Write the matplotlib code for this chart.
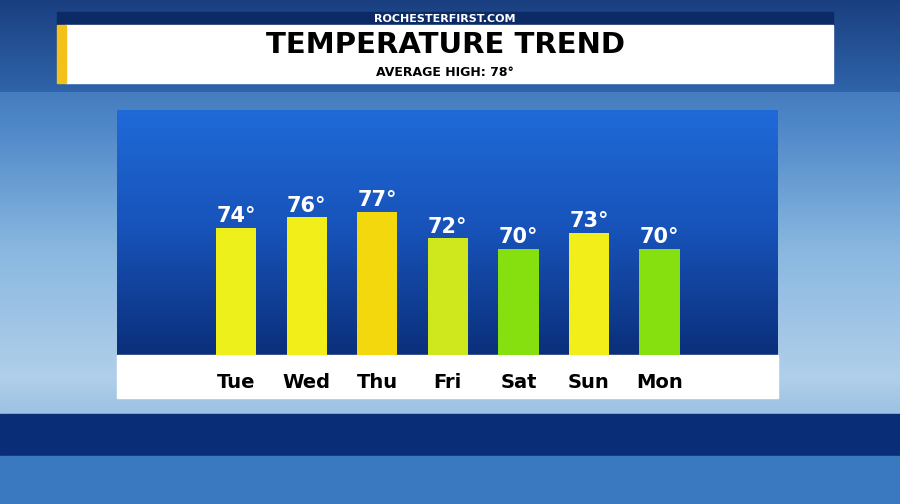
import matplotlib
matplotlib.use("Agg")
import matplotlib.pyplot as plt
import numpy as np
from matplotlib.patches import Rectangle

days = ["Tue", "Wed", "Thu", "Fri", "Sat", "Sun", "Mon"]
highs = [74, 76, 77, 72, 70, 73, 70]
bar_colors = ["#eef01c", "#f2ee1a", "#f2d80c", "#cfe81e", "#86e010", "#f2ee1a", "#86e010"]
title = "TEMPERATURE TREND"
subtitle = "AVERAGE HIGH: 78°"
site = "ROCHESTERFIRST.COM"

W, H = 900, 504
fig = plt.figure(figsize=(W / 100, H / 100), dpi=100)

# background: sky-ish gradient, in pixel coords (y down)
bg = fig.add_axes([0, 0, 1, 1])
bg.set_xlim(0, W)
bg.set_ylim(H, 0)
bg.axis("off")
grad = np.linspace(0, 1, 256).reshape(-1, 1)
sky = plt.matplotlib.colors.LinearSegmentedColormap.from_list(
    "sky", ["#2a5ea8", "#4f88c8", "#8ab8e0", "#b0cfea", "#6d9fd0"])
bg.imshow(grad, cmap=sky, extent=[0, W, H, 0], aspect="auto")
# top dark band and bottom dark band
top = plt.matplotlib.colors.LinearSegmentedColormap.from_list(
    "top", ["#1a3f80", "#2f64aa"])
bg.imshow(grad, cmap=top, extent=[0, W, 92, 0], aspect="auto")
bg.add_patch(Rectangle((0, 414), W, 42, color="#0a2d78"))
bg.add_patch(Rectangle((0, 456), W, 48, color="#3a78c0"))
# header
bg.add_patch(Rectangle((57, 12), 776, 14, color="#0b2a66"))
bg.add_patch(Rectangle((65, 25), 768, 58, color="white"))
bg.add_patch(Rectangle((57, 25), 9, 58, color="#f2c21a"))
bg.text(445, 19, site, color="white", ha="center", va="center", fontsize=8, fontweight="bold")
bg.text(445, 45, title, color="black", ha="center", va="center", fontsize=21, fontweight="bold")
bg.text(445, 72, subtitle, color="black", ha="center", va="center", fontsize=9, fontweight="bold")
# panel: blue gradient + white label strip
panel = plt.matplotlib.colors.LinearSegmentedColormap.from_list(
    "panel", ["#1f6ad8", "#1752b8", "#0b2f7a"])
bg.imshow(grad, cmap=panel, extent=[117, 778, 355, 110], aspect="auto", zorder=2)
bg.add_patch(Rectangle((117, 355), 661, 43, color="white", zorder=2))

# chart axes over the panel
ax = fig.add_axes([117 / W, 1 - 355 / H, 661 / W, 245 / H])
ax.patch.set_alpha(0)
x = np.arange(len(days))
ax.bar(x, highs, width=0.57, bottom=0, color=bar_colors)
ax.set_ylim(50, 96.2)
ax.set_xlim(-1.69, 7.68)
for xi, v in zip(x, highs):
    ax.text(xi, v + 0.3, f"{v}°", ha="center", va="bottom", color="white",
            fontsize=15, fontweight="bold")
ax.set_xticks(x)
ax.set_xticklabels(days, fontsize=14, fontweight="bold")
ax.tick_params(axis="x", length=0, pad=13)
ax.set_yticks([])
for s in ax.spines.values():
    s.set_visible(False)

fig.savefig("out.png", dpi=100)
